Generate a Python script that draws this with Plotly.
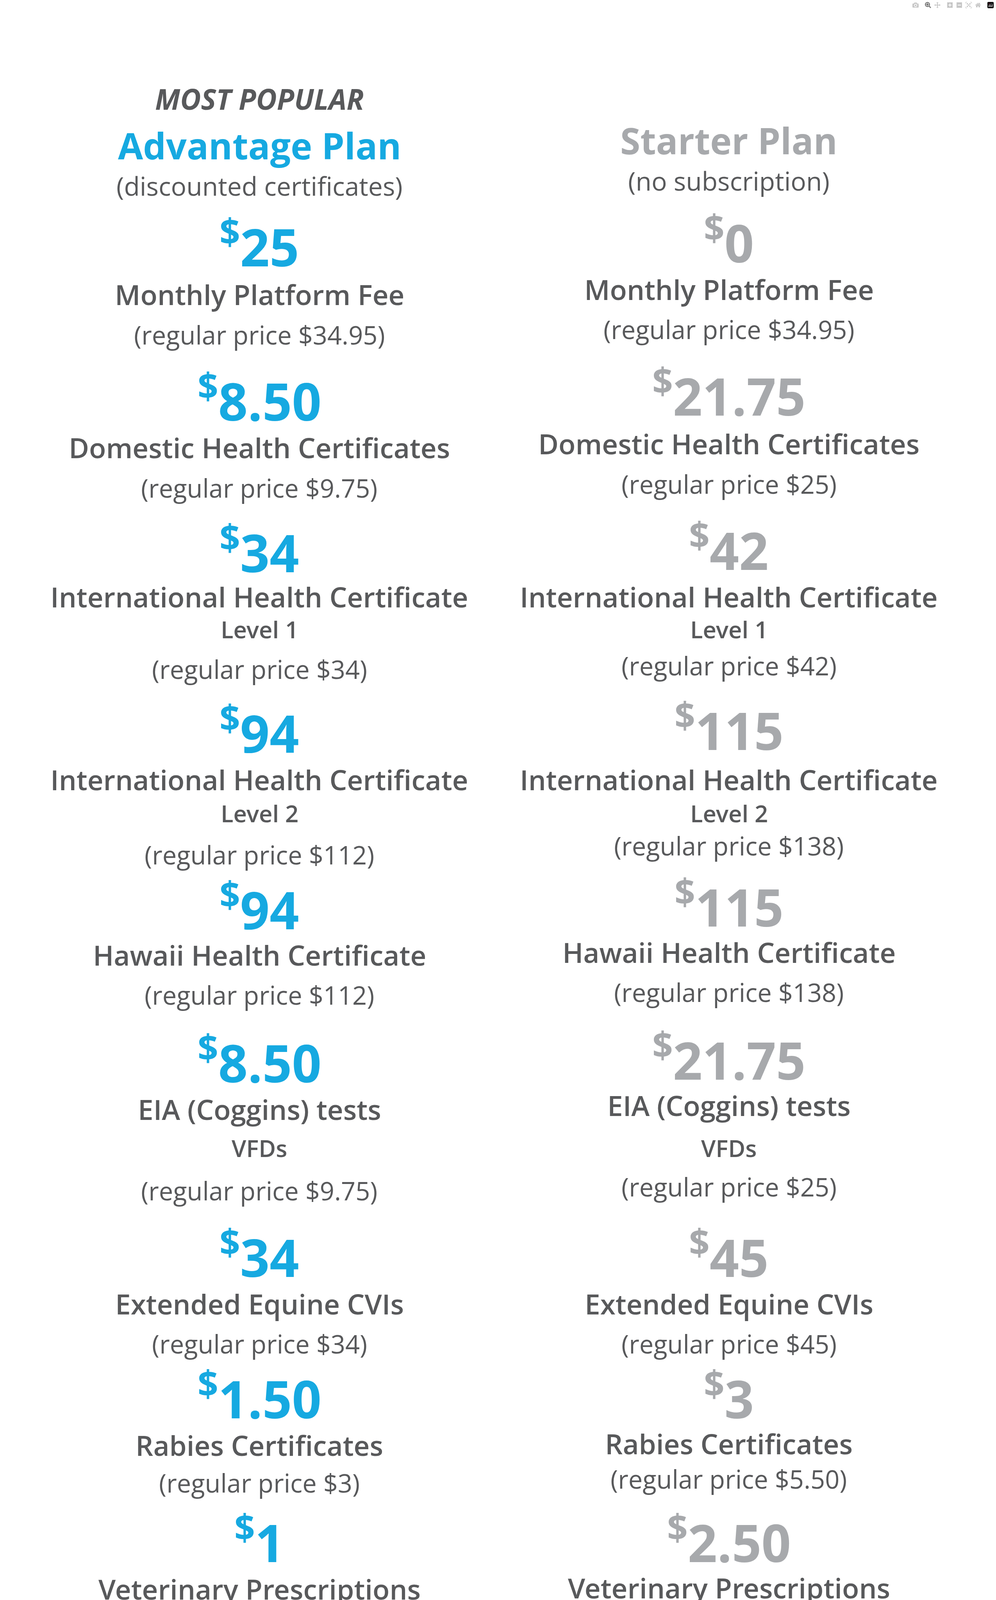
import plotly.graph_objects as go

W, H = 2550, 5167

# ---------------- data ----------------
adv_title = ["MOST POPULAR", "Advantage Plan", "(discounted certificates)"]
starter_title = ["Starter Plan", "(no subscription)"]
items = [
    ["Monthly Platform Fee"],
    ["Domestic Health Certificates"],
    ["International Health Certificate", "Level 1"],
    ["International Health Certificate", "Level 2"],
    ["Hawaii Health Certificate"],
    ["EIA (Coggins) tests", "VFDs"],
    ["Extended Equine CVIs"],
    ["Rabies Certificates"],
    ["Veterinary Prescriptions"],
    ["ForSale Certificates"],
]
adv_prices = ["25", "8.50", "34", "94", "94", "8.50", "34", "1.50", "1", "7.50"]
adv_regular = ["34.95", "9.75", "34", "112", "112", "9.75", "34", "3", "1", None]
starter_prices = ["0", "21.75", "42", "115", "115", "21.75", "45", "3", "2.50", "15.75"]
starter_regular = ["34.95", "25", "42", "138", "138", "25", "45", "5.50", "3", None]

# ---------------- layout positions (display units, 768 x 1556) ----------------
adv_title_y = [76, 112, 143]
starter_title_y = [108, 139]
adv_y = [
    [188, 227, 258], [307, 345, 376], [424, 460, 485, 516], [563, 601, 627, 659],
    [699, 736, 767], [817, 855, 885, 918], [967, 1005, 1036], [1076, 1114, 1143],
    [1187, 1225, 1251], [1293, 1332],
]
starter_y = [
    [185, 223, 254], [303, 342, 373], [422, 460, 485, 513], [561, 601, 627, 652],
    [697, 734, 765], [815, 852, 885, 915], [967, 1005, 1036], [1076, 1113, 1140],
    [1187, 1224, 1251], [1295, 1332],
]

BLUE = "#16A9E1"
GRAY = "#A7A9AC"
DARK = "#58595B"
FONT = "Open Sans"
SEMI = "Open Sans SemiBold"

anns = []

def add(text, xd, yd, size, color, family=SEMI):
    anns.append(dict(text=text, x=xd / 768, y=1 - yd / 1556, xref="paper", yref="paper",
                     showarrow=False, xanchor="center", yanchor="middle",
                     font=dict(size=size, color=color, family=family)))

LX, RX = 200, 562
add("<b><i>" + adv_title[0] + "</i></b>", LX, adv_title_y[0], 73, DARK, FONT)
add("<b>" + adv_title[1] + "</b>", LX, adv_title_y[1], 93, BLUE, FONT)
add(adv_title[2], LX, adv_title_y[2], 66, DARK, FONT)
add("<b>" + starter_title[0] + "</b>", RX, starter_title_y[0], 93, GRAY, FONT)
add(starter_title[1], RX, starter_title_y[1], 66, DARK, FONT)

def column(x, prices, regs, ys, color):
    for lbl, p, r, y in zip(items, prices, regs, ys):
        add("<b><sup>$</sup>" + p + "</b>", x, y[0], 132, color, FONT)
        for i, line in enumerate(lbl):
            size = 71 if i == 0 else 60
            add(line, x, y[1 + i], size, DARK, SEMI)
        if r is not None:
            add("(regular price $" + r + ")", x, y[-1], 65, DARK, FONT)

column(LX, adv_prices, adv_regular, adv_y, BLUE)
column(RX, starter_prices, starter_regular, starter_y, GRAY)

fig = go.Figure()
fig.update_layout(width=W, height=H, margin=dict(l=0, r=0, t=0, b=0),
                  paper_bgcolor="white", plot_bgcolor="white",
                  xaxis=dict(visible=False, range=[0, 1]),
                  yaxis=dict(visible=False, range=[0, 1]),
                  annotations=anns)
fig.write_html("out.html")

with open("out.html", "r", encoding="utf-8") as f:
    html = f.read()
html = html.replace("<head>", "<head><style>html,body{margin:0;padding:0;}</style>", 1)
with open("out.html", "w", encoding="utf-8") as f:
    f.write(html)
